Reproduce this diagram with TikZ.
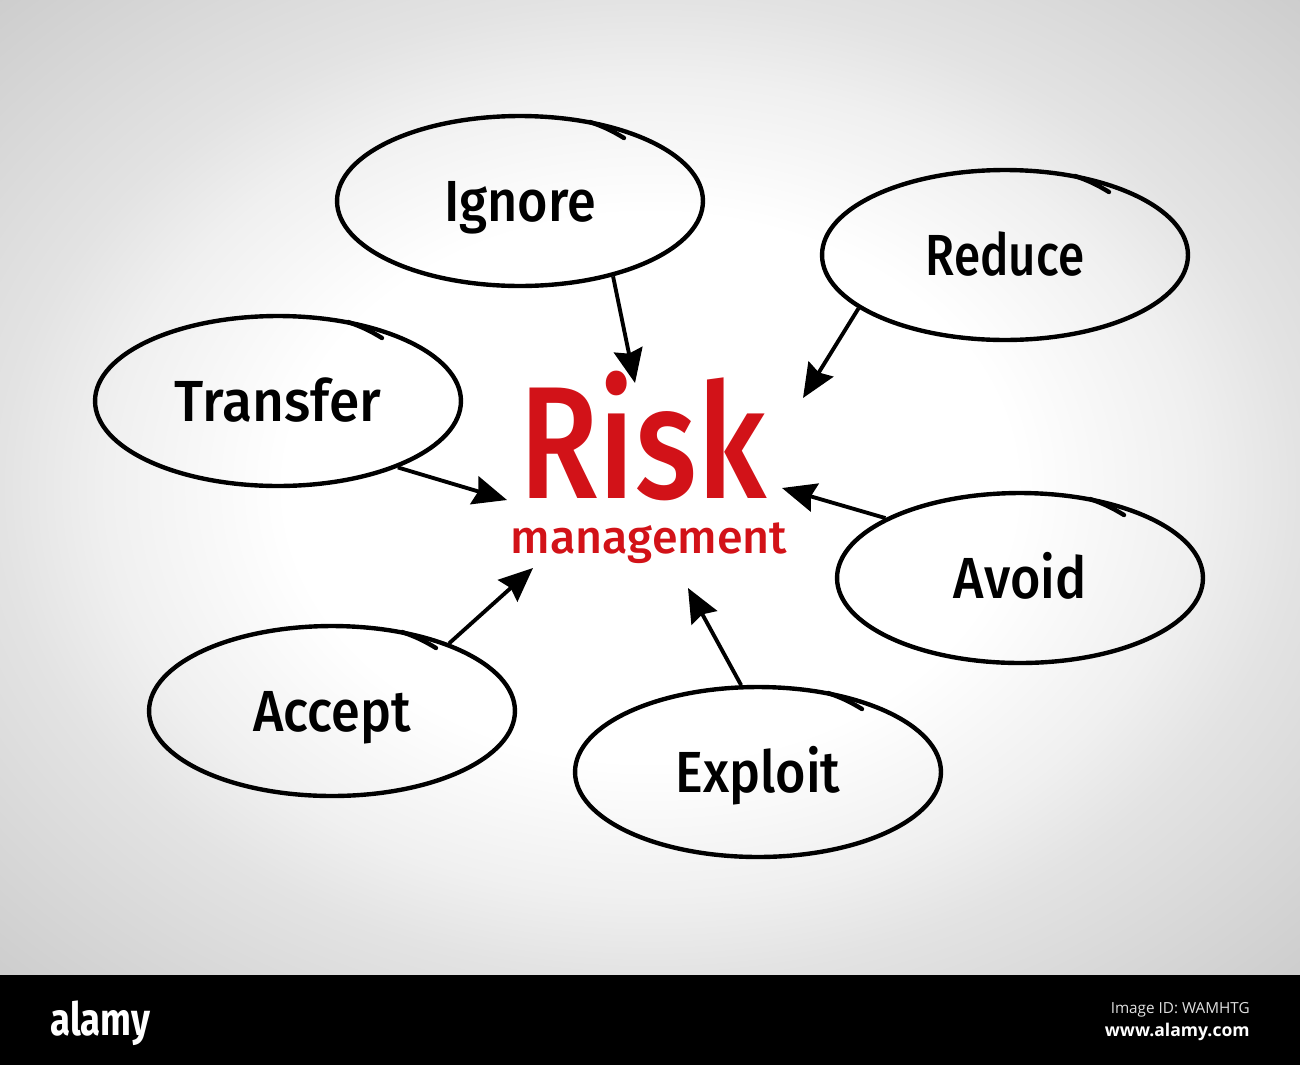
\documentclass[tikz,border=0pt]{standalone}
\usepackage{fontspec}
\setmainfont{Fira Sans}
\newfontfamily\lblfont{Fira Sans Medium}
\newfontfamily\opensans{Open Sans}
\usetikzlibrary{shapes.geometric,arrows.meta}
\definecolor{riskred}{RGB}{210,18,24}
\pgfdeclareradialshading{vignette}{\pgfpoint{0bp}{0bp}}{color(0bp)=(white); color(14bp)=(white); color(21bp)=(black!6); color(25bp)=(black!11); color(36bp)=(black!20); color(50bp)=(black!20)}
\newcommand{\ovaltext}[1]{\scalebox{0.9}[1]{#1}}
\begin{document}
\begin{tikzpicture}[x=0.02cm,y=-0.02cm,
  oval/.style={draw=black, line width=2.5pt, ellipse, minimum width=7.32cm, minimum height=3.4cm,
    inner sep=0pt, text height=0.8cm, text depth=0pt, font=\lblfont\fontsize{33}{33}\selectfont},
  tailstroke/.style={draw=black, line width=2.5pt, line cap=round},
  arr/.style={draw=black, line width=2.2pt, -{Stealth[length=0.68cm,width=0.58cm,inset=0.08cm]}},
  riskword/.style={anchor=base, inner sep=0pt, text=riskred, text depth=0pt},
  barword/.style={inner sep=0pt, text=white}]
\useasboundingbox (0,0) rectangle (1300,1065);
\shade[shading=vignette] (0,0) rectangle (1300,975);
\fill[black] (0,975) rectangle (1300,1065);

% ovals
\node[oval] (ign) at (520,201) {\ovaltext{Ignore}};
\node[oval] (rdc) at (1005,255) {\scalebox{0.82}[1]{Reduce}};
\node[oval] (tra) at (278,401) {\scalebox{0.95}[1]{Transfer}};
\node[oval] (avo) at (1020,578) {\ovaltext{Avoid}};
\node[oval] (acc) at (332,711) {\ovaltext{Accept}};
\node[oval] (exl) at (758,772) {\ovaltext{Exploit}};

% stroke ends of the hand-drawn ovals
\foreach \n in {ign,rdc,tra,avo,acc,exl}{
  \draw[tailstroke] ([shift={(70,-79)}]\n.center) to[bend left=6] ([shift={(104,-63)}]\n.center);
}

% centre text
\node[riskword] (risk) at (643,498) {\scalebox{0.81}[1]{\lblfont\fontsize{91}{91}\selectfont Risk}};
\node[riskword] (mgmt) at (649,553) {\lblfont\fontsize{26.5}{26.5}\selectfont management};

% arrow tips
\coordinate (tI) at (635,383);
\coordinate (tR) at (803,398);
\coordinate (tT) at (507,500);
\coordinate (tV) at (782,488);
\coordinate (tA) at (533,568);
\coordinate (tE) at (688,588);

\draw[arr] (ign.-39) -- (tI);
\draw[arr] (rdc.-160) -- (tR);
\draw[arr] (tra.-29) -- (tT);
\draw[arr] (avo.156) -- (tV);
\draw[arr] (acc.30) -- (tA);
\draw[arr] (exl.101) -- (tE);

% bottom bar
\node[barword, anchor=base west] (alamy) at (50,1035) {\scalebox{0.8}[1]{\fontsize{26}{26}\selectfont\bfseries alamy}};
\node[barword, anchor=base east, text=white!88!black] (imgid) at (1250,1013) {\opensans\fontsize{8.7}{9}\selectfont Image ID: WAMHTG};
\node[barword, anchor=base east] (www) at (1250,1036) {\opensans\bfseries\fontsize{10}{10}\selectfont www.alamy.com};
\end{tikzpicture}
\end{document}
